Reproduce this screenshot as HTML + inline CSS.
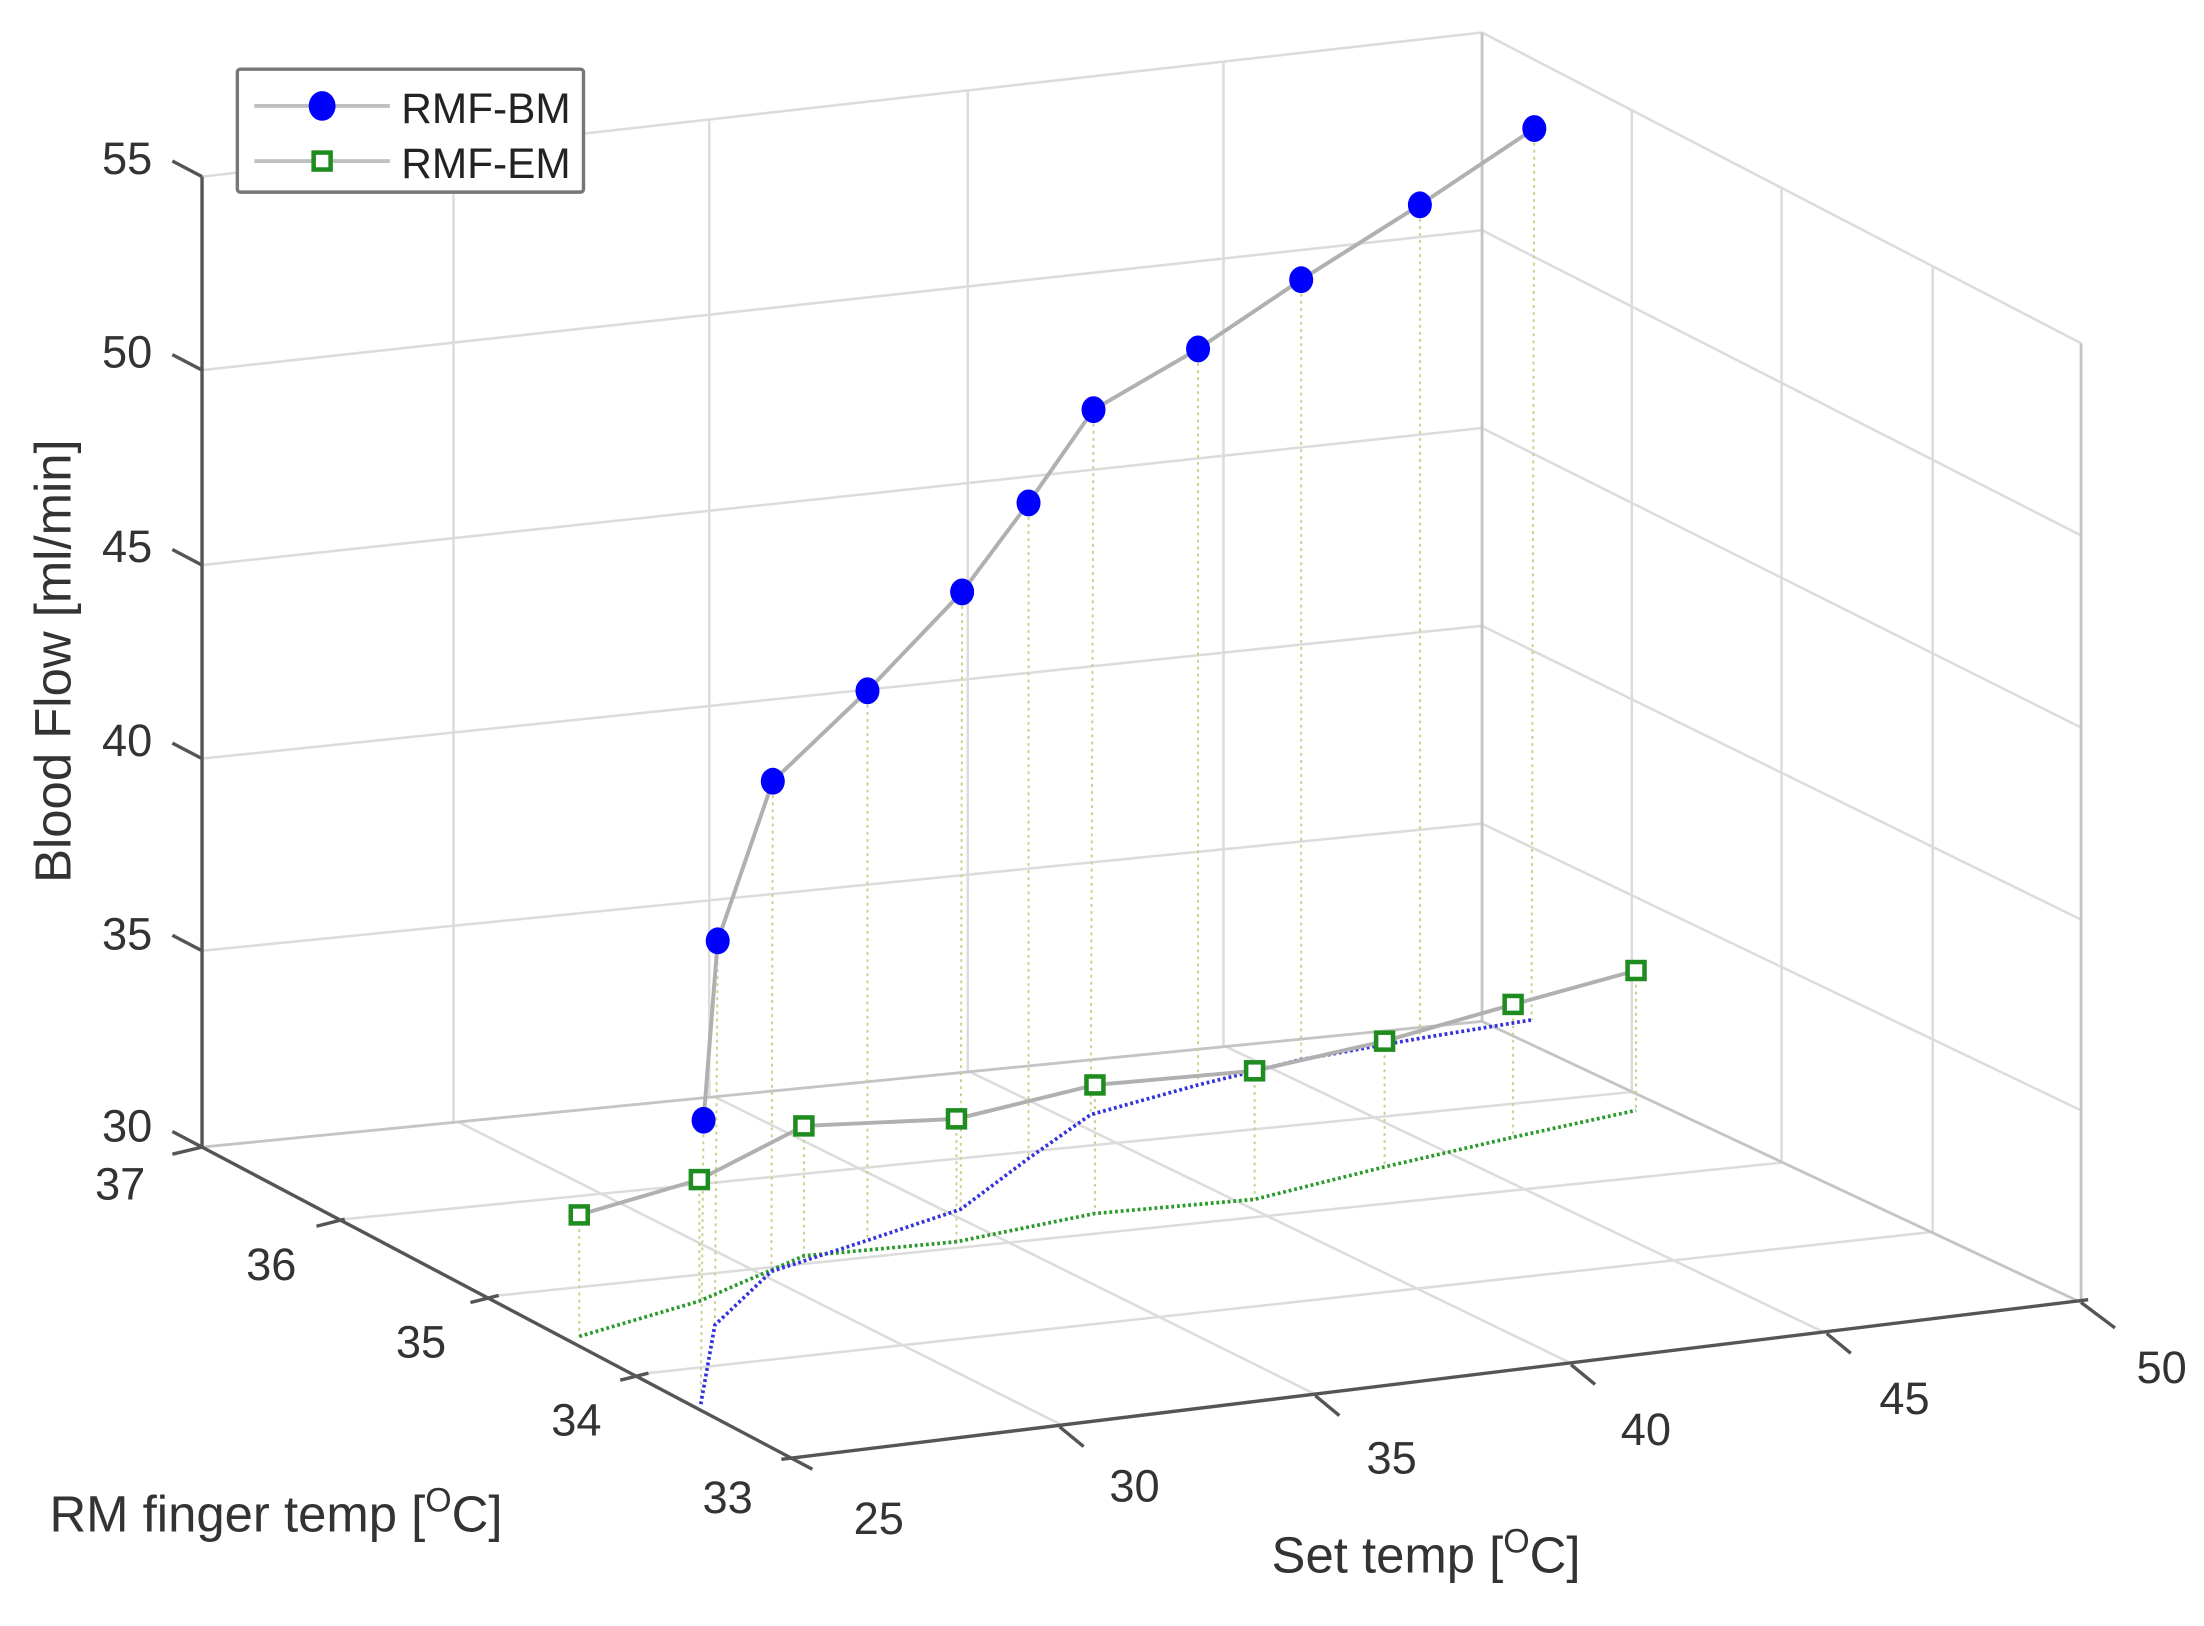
<!DOCTYPE html>
<html><head><meta charset="utf-8"><style>
html,body{margin:0;padding:0;background:#fff;}
svg{display:block;}
text{font-family:"Liberation Sans",Arial,sans-serif;fill:#333;}
</style></head><body>
<svg width="2204" height="1626" viewBox="0 0 1560 1151" preserveAspectRatio="none" xmlns="http://www.w3.org/2000/svg">
<rect width="1560" height="1151" fill="#fff"/>
<g stroke="#dcdcdc" stroke-width="1.8" fill="none">
<line x1="143" y1="125" x2="1049" y2="23"/>
<line x1="143" y1="262" x2="1049" y2="163"/>
<line x1="143" y1="400" x2="1049" y2="303"/>
<line x1="143" y1="537" x2="1049" y2="443"/>
<line x1="143" y1="673" x2="1049" y2="583"/>
<line x1="1049" y1="23" x2="1473" y2="243"/>
<line x1="1049" y1="163" x2="1473" y2="379"/>
<line x1="1049" y1="303" x2="1473" y2="515"/>
<line x1="1049" y1="443" x2="1473" y2="651"/>
<line x1="1049" y1="583" x2="1473" y2="786"/>
<line x1="321" y1="105" x2="321" y2="795"/>
<line x1="502" y1="85" x2="502" y2="777"/>
<line x1="685" y1="64" x2="685" y2="760"/>
<line x1="866" y1="43" x2="866" y2="741"/>
<line x1="1155" y1="78" x2="1155" y2="773"/>
<line x1="1261" y1="133" x2="1261" y2="823"/>
<line x1="1368" y1="189" x2="1368" y2="872"/>
<line x1="244" y1="863" x2="1155" y2="773"/>
<line x1="353" y1="917" x2="1261" y2="823"/>
<line x1="459" y1="972" x2="1368" y2="872"/>
<line x1="324" y1="794" x2="750" y2="1008"/>
<line x1="505" y1="776" x2="931" y2="987"/>
<line x1="687" y1="759" x2="1112" y2="965"/>
<line x1="868" y1="741" x2="1293" y2="944"/>
</g>
<g stroke="#c4c4c4" stroke-width="2" fill="none">
<line x1="1049" y1="23" x2="1049" y2="723"/>
<line x1="1473" y1="243" x2="1473" y2="922"/>
<line x1="143" y1="812" x2="1049" y2="723"/>
<line x1="1049" y1="723" x2="1473" y2="922"/>
</g>
<g stroke="#555" stroke-width="2.4" fill="none">
<line x1="143" y1="125" x2="143" y2="812"/>
<line x1="143" y1="812" x2="575" y2="1040"/>
<line x1="553" y1="1033" x2="1478" y2="920"/>
<line x1="1473" y1="922" x2="1497" y2="940"/>
<line x1="143" y1="125" x2="122" y2="114"/>
<line x1="143" y1="262" x2="122" y2="251"/>
<line x1="143" y1="400" x2="122" y2="389"/>
<line x1="143" y1="537" x2="122" y2="526"/>
<line x1="143" y1="673" x2="122" y2="662"/>
<line x1="143" y1="812" x2="122" y2="801"/>
<line x1="143" y1="812" x2="122" y2="817"/>
<line x1="244" y1="863" x2="224" y2="868"/>
<line x1="353" y1="917" x2="333" y2="922"/>
<line x1="459" y1="972" x2="439" y2="977"/>
<line x1="750" y1="1010" x2="767" y2="1024"/>
<line x1="931" y1="988" x2="948" y2="1002"/>
<line x1="1112" y1="966" x2="1129" y2="980"/>
<line x1="1293" y1="944" x2="1310" y2="958"/>
</g>
<g font-size="32" text-anchor="middle">
<text x="90" y="123">55</text>
<text x="90" y="260">50</text>
<text x="90" y="398">45</text>
<text x="90" y="535">40</text>
<text x="90" y="672">35</text>
<text x="90" y="808">30</text>
<text x="85" y="849">37</text>
<text x="192" y="906">36</text>
<text x="298" y="961">35</text>
<text x="408" y="1016">34</text>
<text x="515" y="1071">33</text>
<text x="622" y="1086">25</text>
<text x="803" y="1063">30</text>
<text x="985" y="1043">35</text>
<text x="1165" y="1023">40</text>
<text x="1348" y="1001">45</text>
<text x="1530" y="979">50</text>
</g>
<text x="0" y="0" font-size="36" text-anchor="middle" transform="translate(50,468) rotate(-90)">Blood Flow [ml/min]</text>
<text x="35" y="1084" font-size="36">RM finger temp [<tspan font-size="24" dy="-14">O</tspan><tspan dy="14">C]</tspan></text>
<text x="900" y="1113" font-size="36">Set temp [<tspan font-size="24" dy="-14">O</tspan><tspan dy="14">C]</tspan></text>
<g stroke="#c9cf8e" stroke-width="1.4" stroke-dasharray="2,3" fill="none">
<line x1="498" y1="793" x2="496" y2="990"/>
<line x1="508" y1="666" x2="506" y2="938"/>
<line x1="547" y1="553" x2="546" y2="900"/>
<line x1="614" y1="489" x2="614" y2="878"/>
<line x1="681" y1="419" x2="680" y2="856"/>
<line x1="728" y1="356" x2="728" y2="820"/>
<line x1="774" y1="290" x2="772" y2="789"/>
<line x1="848" y1="247" x2="848" y2="766"/>
<line x1="921" y1="198" x2="921" y2="750"/>
<line x1="1005" y1="145" x2="1005" y2="735"/>
<line x1="1086" y1="91" x2="1084" y2="722"/>
<line x1="410" y1="860" x2="410" y2="946"/>
<line x1="495" y1="835" x2="495" y2="921"/>
<line x1="569" y1="797" x2="569" y2="889"/>
<line x1="677" y1="792" x2="677" y2="879"/>
<line x1="775" y1="768" x2="775" y2="859"/>
<line x1="888" y1="758" x2="888" y2="849"/>
<line x1="980" y1="737" x2="980" y2="826"/>
<line x1="1071" y1="711" x2="1071" y2="805"/>
<line x1="1158" y1="687" x2="1158" y2="786"/>
</g>
<polyline fill="none" stroke="#2a9a2a" stroke-width="2.6" stroke-dasharray="2,2" points="410,946 495,921 569,889 677,879 775,859 888,849 980,826 1071,805 1158,786"/>
<polyline fill="none" stroke="#3333dd" stroke-width="2.6" stroke-dasharray="2,2" points="496,994 506,938 546,900 614,878 680,856 728,820 772,789 848,768 921,750 1005,735 1084,722"/>
<polyline fill="none" stroke="#b0b0b0" stroke-width="2.8" points="498,793 508,666 547,553 614,489 681,419 728,356 774,290 848,247 921,198 1005,145 1086,91"/>
<polyline fill="none" stroke="#b0b0b0" stroke-width="2.8" points="410,860 495,835 569,797 677,792 775,768 888,758 980,737 1071,711 1158,687"/>
<g fill="#0000ff">
<ellipse cx="498" cy="793" rx="8.5" ry="9.5"/><ellipse cx="508" cy="666" rx="8.5" ry="9.5"/>
<ellipse cx="547" cy="553" rx="8.5" ry="9.5"/><ellipse cx="614" cy="489" rx="8.5" ry="9.5"/>
<ellipse cx="681" cy="419" rx="8.5" ry="9.5"/><ellipse cx="728" cy="356" rx="8.5" ry="9.5"/>
<ellipse cx="774" cy="290" rx="8.5" ry="9.5"/><ellipse cx="848" cy="247" rx="8.5" ry="9.5"/>
<ellipse cx="921" cy="198" rx="8.5" ry="9.5"/><ellipse cx="1005" cy="145" rx="8.5" ry="9.5"/>
<ellipse cx="1086" cy="91" rx="8.5" ry="9.5"/>
</g>
<g fill="#fff" stroke="#1e8c1e" stroke-width="3.2">
<rect x="404" y="854" width="12" height="12"/><rect x="489" y="829" width="12" height="12"/>
<rect x="563" y="791" width="12" height="12"/><rect x="671" y="786" width="12" height="12"/>
<rect x="769" y="762" width="12" height="12"/><rect x="882" y="752" width="12" height="12"/>
<rect x="974" y="731" width="12" height="12"/><rect x="1065" y="705" width="12" height="12"/>
<rect x="1152" y="681" width="12" height="12"/>
</g>
<rect x="168" y="49" width="245" height="87" fill="#fff" stroke="#777" stroke-width="2.4" rx="2"/>
<line x1="180" y1="75" x2="276" y2="75" stroke="#c0c0c0" stroke-width="2.8"/>
<line x1="180" y1="114" x2="276" y2="114" stroke="#c0c0c0" stroke-width="2.8"/>
<ellipse cx="228" cy="75" rx="9.5" ry="10.5" fill="#0000ff"/>
<rect x="222" y="108" width="12" height="12" fill="#fff" stroke="#1e8c1e" stroke-width="3.2"/>
<text x="284" y="87" font-size="30" style="fill:#222">RMF-BM</text>
<text x="284" y="126" font-size="30" style="fill:#222">RMF-EM</text>
</svg>
</body></html>
